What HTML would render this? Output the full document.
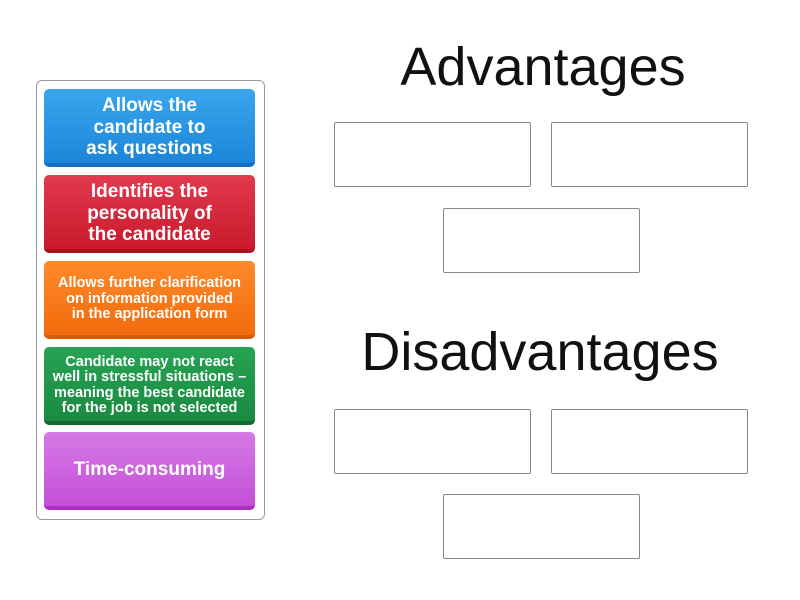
<!DOCTYPE html>
<html><head><style>
body{margin:0;width:800px;height:600px;background:#fff;position:relative;font-family:"Liberation Sans","DejaVu Sans",sans-serif;overflow:hidden}
.c{position:absolute;left:36px;top:80px;width:229px;height:440px;border:1px solid #999;border-radius:6px;box-sizing:border-box}
.t{position:absolute;left:44px;width:211px;height:78px;border-radius:5px;color:#fff;font-weight:bold;display:flex;align-items:center;justify-content:center;text-align:center;line-height:1.1;box-sizing:border-box;padding:3px 4px 0}
.b{position:absolute;width:197px;height:65px;border:1px solid #888;box-sizing:border-box;border-radius:2px}
.h{position:absolute;width:800px;text-align:center;font-size:54px;color:#111}
</style></head><body>
<div class="c"></div>
<div class="t" style="top:89px;background:linear-gradient(#3aa6ee,#1b86d8);font-size:19px;line-height:1.15;border-bottom:4px solid #1670c0">Allows the<br>candidate to<br>ask questions</div>
<div class="t" style="top:175px;background:linear-gradient(#e23a4e,#c81a2c);font-size:19px;line-height:1.15;border-bottom:4px solid #a8121f">Identifies the<br>personality of<br>the candidate</div>
<div class="t" style="top:261px;background:linear-gradient(#ff8a2a,#f26b0c);font-size:14.5px;border-bottom:4px solid #d85a05">Allows further clarification<br>on information provided<br>in the application form</div>
<div class="t" style="top:347px;background:linear-gradient(#27a354,#1a8a40);font-size:14.5px;line-height:1.05;border-bottom:4px solid #146b32">Candidate may not react<br>well in stressful situations –<br>meaning the best candidate<br>for the job is not selected</div>
<div class="t" style="top:432px;background:linear-gradient(#d57ae6,#c44fd8);font-size:19px;border-bottom:4px solid #b02ac8">Time-consuming</div>
<div class="h" style="left:143px;top:36px">Advantages</div>
<div class="b" style="left:334px;top:122px"></div>
<div class="b" style="left:551px;top:122px"></div>
<div class="b" style="left:443px;top:208px"></div>
<div class="h" style="left:140px;top:321px">Disadvantages</div>
<div class="b" style="left:334px;top:409px"></div>
<div class="b" style="left:551px;top:409px"></div>
<div class="b" style="left:443px;top:494px"></div>
</body></html>
